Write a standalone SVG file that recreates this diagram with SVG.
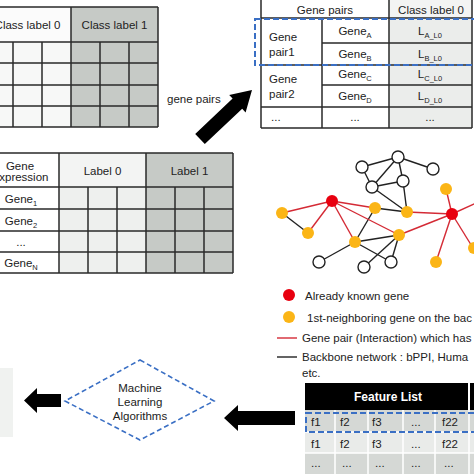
<svg xmlns="http://www.w3.org/2000/svg" width="474" height="474" viewBox="0 0 474 474">
<defs>
<style>
text{font-family:"Liberation Sans",Arial,sans-serif;font-size:11.5px;fill:#222}
.c{text-anchor:middle}
.sub{font-size:7.5px}
.g{stroke:#2a2a2a;stroke-width:1.5;fill:none}
.dash{fill:none;stroke:#3a6fc4;stroke-width:2;stroke-dasharray:6,3}
.bl{stroke:#222;stroke-width:1.4}
.rd{stroke:#d42a35;stroke-width:1.4}
.wn{fill:#fff;stroke:#222;stroke-width:1.4}
.rn{fill:#e8000f}
.yn{fill:#fbb516}
.ft{fill:#222}
.wl{stroke:#fff;stroke-width:1.5}
.arr{fill:#000}
</style>
</defs>
<rect width="474" height="474" fill="#fff"/>

<g id="table-class-labels">
<rect x="0" y="7" width="71" height="35" fill="#fbfbfb"/>
<rect x="71" y="7" width="87" height="35" fill="#c6cac6"/>
<rect x="0" y="42" width="71" height="85" fill="#f7f8f7"/>
<rect x="71" y="42" width="87" height="85" fill="#c6cac6"/>
<path class="g" d="M0 7H158M0 42H158M0 63H158M0 85H158M0 106H158M0 127H158M158 7V127M71 7V127M13 42V127M42 42V127M100 42V127M129 42V127"/>
<text class="c" x="27.5" y="29">Class label 0</text>
<text class="c" x="114.5" y="29">Class label 1</text>
</g>

<g id="label-gene-pairs">
<text x="167" y="103">gene pairs</text>
</g>

<g id="table-gene-pairs">
<rect x="261" y="-1" width="128" height="129" fill="#fff"/>
<rect x="389" y="-1" width="83" height="19" fill="#f3f4f3"/>
<rect x="389" y="18" width="83" height="110" fill="#ebedeb"/>
<path class="g" d="M261 -1H472M261 18H472M322 43H472M261 65H472M322 85H472M261 107H472M261 128H472M261 -1V128M389 -1V128M472 -1V128M322 18V128"/>
<text class="c" x="325" y="14">Gene pairs</text>
<text class="c" x="431" y="14">Class label 0</text>
<text x="269" y="41">Gene</text>
<text x="269" y="56">pair1</text>
<text x="269" y="83">Gene</text>
<text x="269" y="98">pair2</text>
<text x="271" y="121">...</text>
<text class="c" x="355" y="35">Gene<tspan class="sub" dy="3">A</tspan></text>
<text class="c" x="355" y="58">Gene<tspan class="sub" dy="3">B</tspan></text>
<text class="c" x="355" y="78">Gene<tspan class="sub" dy="3">C</tspan></text>
<text class="c" x="355" y="100">Gene<tspan class="sub" dy="3">D</tspan></text>
<text class="c" x="355" y="121">...</text>
<text class="c" x="430" y="35">L<tspan class="sub" dy="3">A_L0</tspan></text>
<text class="c" x="430" y="58">L<tspan class="sub" dy="3">B_L0</tspan></text>
<text class="c" x="430" y="78">L<tspan class="sub" dy="3">C_L0</tspan></text>
<text class="c" x="430" y="100">L<tspan class="sub" dy="3">D_L0</tspan></text>
<text class="c" x="430" y="121">...</text>
<rect class="dash" x="255" y="19" width="225" height="46"/>
</g>

<g id="table-gene-expression">
<rect x="0" y="153" width="59" height="120" fill="#fff"/>
<rect x="59" y="153" width="87" height="34" fill="#f3f4f3"/>
<rect x="59" y="187" width="87" height="86" fill="#eef0ee"/>
<rect x="146" y="153" width="87" height="120" fill="#c6cac6"/>
<path class="g" d="M0 153H233M0 187H233M0 209H233M0 231H233M0 252H233M0 273H233M233 153V273M59 153V273M146 153V273M88 187V273M117 187V273M175 187V273M204 187V273"/>
<text class="c" x="20" y="170">Gene</text>
<text class="c" x="20" y="181">Expression</text>
<text class="c" x="102.5" y="175">Label 0</text>
<text class="c" x="189.5" y="175">Label 1</text>
<text class="c" x="21" y="203">Gene<tspan class="sub" dy="3">1</tspan></text>
<text class="c" x="21" y="225">Gene<tspan class="sub" dy="3">2</tspan></text>
<text class="c" x="21" y="246">...</text>
<text class="c" x="21" y="267">Gene<tspan class="sub" dy="3">N</tspan></text>
</g>

<g id="connectors">
<polygon class="arr" points="195.2,133.9 232.6,98.6 229.2,95 252,90 245.6,112.4 242.2,108.8 204.8,144.1"/>
<polygon class="arr" points="61,394 37,394 37,388 24,400.5 37,413 37,407 61,407"/>
<polygon class="arr" points="295,411 238,411 238,405 224,418 238,431 238,425 295,425"/>
<g id="network-edges">
<line class="bl" x1="362" y1="167" x2="398" y2="157"/>
<line class="bl" x1="398" y1="157" x2="433" y2="169"/>
<line class="bl" x1="362" y1="167" x2="372" y2="187"/>
<line class="bl" x1="398" y1="157" x2="372" y2="187"/>
<line class="bl" x1="398" y1="157" x2="403" y2="181"/>
<line class="bl" x1="372" y1="187" x2="403" y2="181"/>
<line class="bl" x1="403" y1="181" x2="407" y2="212"/>
<line class="bl" x1="372" y1="187" x2="407" y2="212"/>
<line class="bl" x1="375" y1="208" x2="407" y2="212"/>
<line class="bl" x1="282" y1="213" x2="308" y2="233"/>
<line class="bl" x1="375" y1="208" x2="355" y2="242"/>
<line class="bl" x1="355" y1="242" x2="399" y2="235"/>
<line class="bl" x1="355" y1="242" x2="319" y2="262"/>
<line class="bl" x1="355" y1="242" x2="391" y2="262"/>
<line class="bl" x1="399" y1="235" x2="364" y2="267"/>
<line class="bl" x1="399" y1="235" x2="391" y2="262"/>
<line class="rd" x1="332" y1="201" x2="282" y2="213"/>
<line class="rd" x1="332" y1="201" x2="308" y2="233"/>
<line class="rd" x1="332" y1="201" x2="375" y2="208"/>
<line class="rd" x1="332" y1="201" x2="355" y2="242"/>
<line class="rd" x1="332" y1="201" x2="399" y2="235"/>
<line class="rd" x1="407" y1="212" x2="452" y2="214"/>
<line class="rd" x1="446" y1="189" x2="452" y2="214"/>
<line class="rd" x1="399" y1="235" x2="452" y2="214"/>
<line class="rd" x1="452" y1="214" x2="436" y2="262"/>
<line class="rd" x1="452" y1="214" x2="473" y2="248"/>
<line class="rd" x1="452" y1="214" x2="476" y2="203"/>
</g>
</g>

<g id="network-nodes">
<circle id="n-w1" class="wn" cx="362" cy="167" r="6"/>
<circle id="n-w2" class="wn" cx="398" cy="157" r="6"/>
<circle id="n-w3" class="wn" cx="433" cy="169" r="6"/>
<circle id="n-w4" class="wn" cx="372" cy="187" r="6"/>
<circle id="n-w5" class="wn" cx="403" cy="181" r="6"/>
<circle id="n-w6" class="wn" cx="319" cy="262" r="6"/>
<circle id="n-w7" class="wn" cx="364" cy="267" r="6"/>
<circle id="n-w8" class="wn" cx="391" cy="262" r="6"/>
<circle id="n-r1" class="rn" cx="332" cy="201" r="6"/>
<circle id="n-r2" class="rn" cx="452" cy="214" r="6"/>
<circle id="n-y1" class="yn" cx="282" cy="213" r="6"/>
<circle id="n-y2" class="yn" cx="308" cy="233" r="6"/>
<circle id="n-y3" class="yn" cx="375" cy="208" r="6"/>
<circle id="n-y4" class="yn" cx="407" cy="212" r="6"/>
<circle id="n-y5" class="yn" cx="446" cy="189" r="6"/>
<circle id="n-y6" class="yn" cx="355" cy="242" r="6"/>
<circle id="n-y7" class="yn" cx="399" cy="235" r="6"/>
<circle id="n-y8" class="yn" cx="436" cy="262" r="6"/>
<circle id="n-y9" class="yn" cx="474" cy="248" r="6"/>
</g>

<g id="legend">
<circle class="rn" cx="289" cy="295" r="6"/>
<text x="305" y="300">Already known gene</text>
<circle class="yn" cx="289" cy="317" r="6"/>
<text x="307" y="322">1st-neighboring gene on the bac</text>
<line class="rd" x1="277" y1="338" x2="297" y2="338"/>
<text x="302" y="342">Gene pair (Interaction) which has</text>
<line class="bl" x1="277" y1="357" x2="297" y2="357"/>
<text x="302" y="361">Backbone network : bPPI, Huma</text>
<text x="302" y="377">etc.</text>
</g>

<g id="ml-algorithms">
<polygon points="140,360 214,401 140,440 65,401" fill="#fff" stroke="#3a6fc4" stroke-width="1.6" stroke-dasharray="5,3"/>
<text class="c" x="140" y="392">Machine</text>
<text class="c" x="140" y="406">Learning</text>
<text class="c" x="140" y="420">Algorithms</text>
</g>

<g id="output-box">
<rect x="0" y="368" width="13" height="69" fill="#f0f2f0"/>
</g>

<g id="feature-list">
<rect x="305" y="383" width="163" height="27" fill="#000"/>
<rect x="470" y="383" width="6" height="27" fill="#000"/>
<rect x="305" y="410" width="171" height="22" fill="#d5d8d5"/>
<rect x="305" y="432" width="171" height="21" fill="#e9ebe9"/>
<rect x="305" y="453" width="171" height="21" fill="#d5d8d5"/>
<path class="wl" d="M305 432H476M305 453H476M335 410V474M368 410V474M403 410V474M435 410V474M469 383V474"/>
<text class="c" x="388" y="401" style="font-weight:bold;font-size:12px;fill:#fff">Feature List</text>
<text x="311" y="426">f1</text>
<text x="340" y="426">f2</text>
<text x="372" y="426">f3</text>
<text x="411" y="426">...</text>
<text x="442" y="426">f22</text>
<text x="311" y="448">f1</text>
<text x="340" y="448">f2</text>
<text x="372" y="448">f3</text>
<text x="411" y="448">...</text>
<text x="442" y="448">f22</text>
<text x="311" y="467">...</text>
<text x="342" y="467">...</text>
<text x="375" y="467">...</text>
<text x="411" y="467">...</text>
<text x="444" y="467">...</text>
<rect class="dash" x="306" y="413" width="175" height="19"/>
</g>
</svg>
